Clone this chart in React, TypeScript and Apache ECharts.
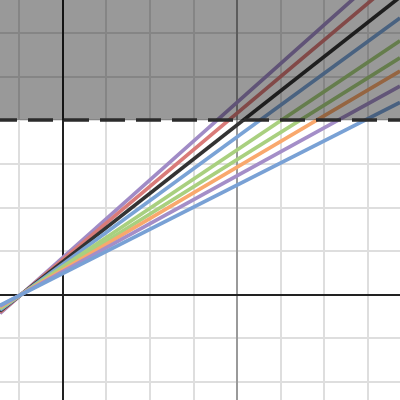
import { useEffect, useRef } from 'react';
import * as echarts from 'echarts';

// visible window of the plane
const X_MIN = -1.436;
const X_MAX = 7.739;
const Y_MIN = -2.42;
const Y_MAX = 6.755;

// grid lines at whole units
const gridXs = [-1, 0, 1, 2, 3, 4, 5, 6, 7];
const gridYs = [-2, -1, 0, 1, 2, 3, 4, 5, 6];

// darker guide line and the shaded boundary
const guideX = 4;
const boundaryY = 4;

// all lines go through one point on the x axis
const pivotX = -0.95;
const slopes = [0.89, 0.84, 0.785, 0.73, 0.67, 0.625, 0.59, 0.55, 0.507];
const lineColors = [
  '#a08bc6',
  '#d97b79',
  '#333333',
  '#7aa3d6',
  '#a9d07f',
  '#a9d07f',
  '#f9a86d',
  '#a48ec8',
  '#79a1d5',
];

export default function App() {
  const chartRef = useRef<HTMLDivElement>(null);

  useEffect(() => {
    if (!chartRef.current) return;
    const chart = echarts.init(chartRef.current, undefined, { renderer: 'svg' });

    const hiddenAxis = {
      type: 'value' as const,
      axisLine: { show: false },
      axisTick: { show: false },
      axisLabel: { show: false },
      splitLine: { show: false },
    };

    const lineSeries = slopes.map((m, i) => ({
      type: 'line' as const,
      name: 'line' + i,
      z: 5,
      symbol: 'none',
      silent: true,
      lineStyle: { color: lineColors[i], width: 3.7 },
      data: [
        [X_MIN, m * (X_MIN - pivotX)],
        [X_MAX, m * (X_MAX - pivotX)],
      ],
    }));

    const markBase = {
      symbol: 'none',
      silent: true,
      label: { show: false },
      emphasis: { disabled: true },
    };

    const option: echarts.EChartsOption = {
      animation: false,
      backgroundColor: '#ffffff',
      grid: { left: 0, right: 0, top: 0, bottom: 0, containLabel: false },
      xAxis: { ...hiddenAxis, min: X_MIN, max: X_MAX },
      yAxis: { ...hiddenAxis, min: Y_MIN, max: Y_MAX },
      series: [
        // light grid
        {
          type: 'line',
          z: 1,
          symbol: 'none',
          lineStyle: { width: 0 },
          data: [[X_MIN, Y_MIN]],
          markLine: {
            ...markBase,
            z: 1,
            lineStyle: { color: '#dedede', width: 2, type: 'solid' },
            data: [
              ...gridXs.map((x) => ({ xAxis: x })),
              ...gridYs.map((y) => ({ yAxis: y })),
            ],
          },
        },
        // guide line and axes
        {
          type: 'line',
          z: 2,
          symbol: 'none',
          lineStyle: { width: 0 },
          data: [[X_MIN, Y_MIN]],
          markLine: {
            ...markBase,
            z: 2,
            data: [
              { xAxis: guideX, lineStyle: { color: '#9a9a9a', width: 2, type: 'solid' } },
              { xAxis: 0, lineStyle: { color: '#222222', width: 2, type: 'solid' } },
              { yAxis: 0, lineStyle: { color: '#222222', width: 2, type: 'solid' } },
            ],
          },
        },
        ...lineSeries,
        // shaded region above the boundary, with dashed edge
        {
          type: 'line',
          z: 10,
          symbol: 'none',
          lineStyle: { width: 0 },
          data: [[X_MIN, Y_MIN]],
          markArea: {
            z: 20,
            silent: true,
            label: { show: false },
            itemStyle: { color: 'rgba(0,0,0,0.4)' },
            data: [[{ yAxis: boundaryY }, { yAxis: Y_MAX }]],
          },
          markLine: {
            ...markBase,
            z: 21,
            lineStyle: {
              color: '#2b2b2b',
              width: 3.5,
              type: [25, 11],
              dashOffset: 8,
            },
            data: [{ yAxis: boundaryY }],
          },
        },
      ],
    };

    chart.setOption(option);

    return () => {
      chart.dispose();
    };
  }, []);

  return (
    <div
      ref={chartRef}
      style={{ position: 'fixed', left: 0, top: 0, width: '400px', height: '400px' }}
    />
  );
}
